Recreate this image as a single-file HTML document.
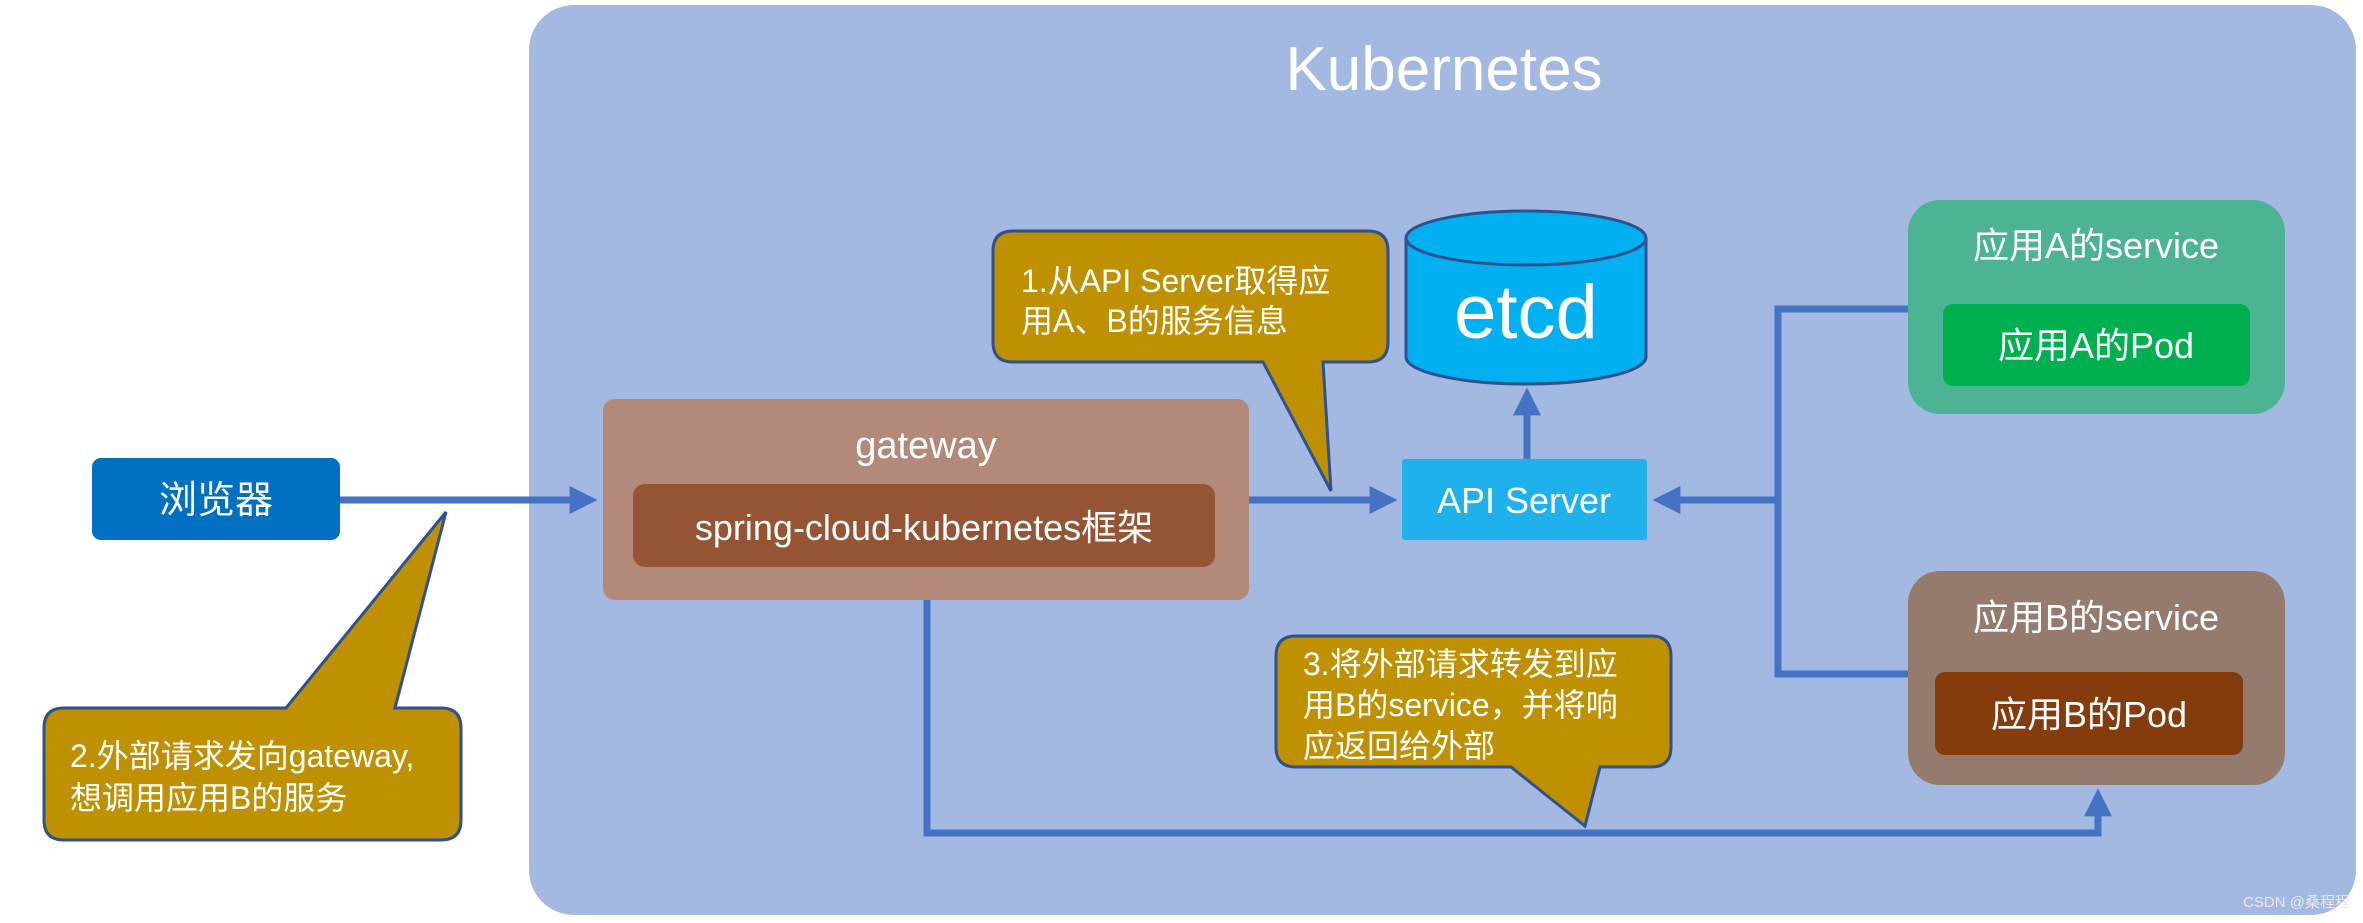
<!DOCTYPE html>
<html><head><meta charset="utf-8"><style>
html,body{margin:0;padding:0;background:#fff;}
svg{display:block;}
text{font-family:"Liberation Sans","Noto Sans CJK SC",sans-serif;fill:#fff;}
</style></head><body>
<svg width="2363" height="923" viewBox="0 0 2363 923" xmlns="http://www.w3.org/2000/svg">
<defs>
<marker id="ah" markerWidth="4" markerHeight="4" refX="2.2" refY="2" orient="auto" markerUnits="strokeWidth">
<path d="M0,0 L4,2 L0,4 z" fill="#4472c4"/>
</marker>
</defs>
<rect x="529" y="5" width="1827" height="910" rx="45" fill="#a3b9e1"/>
<text x="1444" y="90" font-size="62" text-anchor="middle">Kubernetes</text>

<g stroke="#4472c4" stroke-width="7" fill="none">
<line x1="340" y1="500" x2="585" y2="500" marker-end="url(#ah)"/>
<line x1="1249" y1="500" x2="1385" y2="500" marker-end="url(#ah)"/>
<line x1="1527" y1="459" x2="1527" y2="400" marker-end="url(#ah)"/>
<polyline points="1908,309 1778,309 1778,674 1908,674"/>
<line x1="1778" y1="500" x2="1665" y2="500" marker-end="url(#ah)"/>
<polyline points="927,600 927,833 2098,833 2098,801" marker-end="url(#ah)"/>
</g>

<rect x="92" y="458" width="248" height="82" rx="9" fill="#0070c0"/>
<text x="216" y="513" font-size="38" text-anchor="middle">浏览器</text>

<rect x="603" y="399" width="646" height="201" rx="12" fill="#b3897a"/>
<text x="926" y="458" font-size="38" text-anchor="middle">gateway</text>
<rect x="633" y="484" width="582" height="83" rx="12" fill="#955535"/>
<text x="924" y="540" font-size="36" text-anchor="middle">spring-cloud-kubernetes框架</text>

<g stroke="#2f528f" stroke-width="3">
<path d="M1406,238 L1406,357 A120,27 0 0 0 1646,357 L1646,238" fill="#00b0f0"/>
<ellipse cx="1526" cy="238" rx="120" ry="27" fill="#00b0f0"/>
</g>
<text x="1526" y="338" font-size="76" text-anchor="middle">etcd</text>

<rect x="1402" y="459" width="245" height="81" rx="3" fill="#1fb1eb"/>
<text x="1524" y="513" font-size="36" text-anchor="middle">API Server</text>

<rect x="1908" y="200" width="377" height="214" rx="32" fill="#4db395"/>
<text x="2096" y="258" font-size="36" text-anchor="middle">应用A的service</text>
<rect x="1943" y="304" width="307" height="82" rx="10" fill="#00b050"/>
<text x="2096" y="358" font-size="36" text-anchor="middle">应用A的Pod</text>

<rect x="1908" y="571" width="377" height="214" rx="32" fill="#957a6e"/>
<text x="2096" y="630" font-size="36" text-anchor="middle">应用B的service</text>
<rect x="1935" y="672" width="308" height="83" rx="10" fill="#843c0c"/>
<text x="2089" y="727" font-size="36" text-anchor="middle">应用B的Pod</text>

<g fill="#bf9000" stroke="#2f528f" stroke-width="3">
<path d="M1013,231 H1368 Q1388,231 1388,251 V342 Q1388,362 1368,362 H1323 L1331,491 L1263,362 H1013 Q993,362 993,342 V251 Q993,231 1013,231 Z"/>
<path d="M64,708 H286 L446,512 L395,708 H441 Q461,708 461,728 V820 Q461,840 441,840 H64 Q44,840 44,820 V728 Q44,708 64,708 Z"/>
<path d="M1296,636 H1651 Q1671,636 1671,656 V747 Q1671,767 1651,767 H1600 L1585,826 L1511,767 H1296 Q1276,767 1276,747 V656 Q1276,636 1296,636 Z"/>
</g>
<text font-size="32"><tspan x="1021" y="292">1.从API Server取得应</tspan><tspan x="1021" y="332">用A、B的服务信息</tspan></text>
<text font-size="32"><tspan x="70" y="767">2.外部请求发向gateway,</tspan><tspan x="70" y="809">想调用应用B的服务</tspan></text>
<text font-size="32"><tspan x="1303" y="675">3.将外部请求转发到应</tspan><tspan x="1303" y="716">用B的service，并将响</tspan><tspan x="1303" y="757">应返回给外部</tspan></text>

<text x="2350" y="907" font-size="15" text-anchor="end" style="fill:#e8e8e8">CSDN @桑程程</text>
</svg>
</body></html>
